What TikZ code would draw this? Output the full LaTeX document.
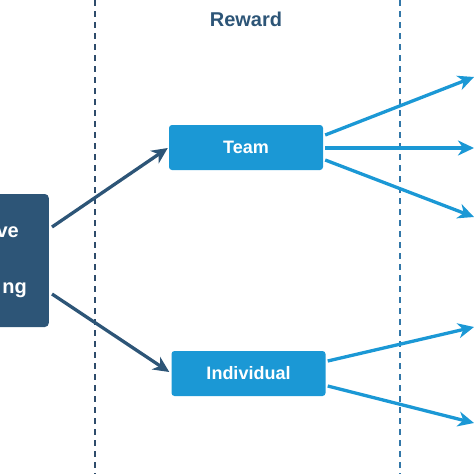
\documentclass[tikz,border=0pt]{standalone}
\usepackage{fontspec}
\setmainfont{Liberation Sans}
\usetikzlibrary{arrows.meta}
\definecolor{darkb}{HTML}{2D5577}
\definecolor{lightb}{HTML}{1B98D5}
\definecolor{dashl}{HTML}{2E4C6B}
\definecolor{dashr}{HTML}{3277A8}
\tikzset{
  boxb/.style={fill=lightb, rounded corners=3pt, minimum width=154pt, minimum height=45pt,
    text=white, font=\fontsize{18}{21}\selectfont\bfseries, inner sep=0pt},
  srcbox/.style={fill=darkb, rounded corners=4pt, minimum width=140pt, minimum height=133pt, inner sep=0pt},
  srctxt/.style={text=white, font=\fontsize{20}{23}\selectfont\bfseries, inner sep=0pt},
  darr/.style={draw=darkb, line width=3.3pt, -{Stealth[length=16pt,width=15pt,inset=5pt]}},
  larr/.style={draw=lightb, line width=3.3pt, -{Stealth[length=16pt,width=15pt,inset=5pt]}},
  divl/.style={line width=1.8pt, dash pattern=on 6pt off 5pt},
}
\begin{document}
\begin{tikzpicture}[x=1pt,y=-1pt]
\useasboundingbox (0,0) rectangle (474,474);
\clip (0,0) rectangle (474,474);
% dashed dividers
\coordinate (d1a) at (95,0);
\coordinate (d1b) at (95,474);
\coordinate (d2a) at (400,0);
\coordinate (d2b) at (400,474);
\draw[divl, draw=dashl] (d1a) -- (d1b);
\draw[divl, draw=dashr] (d2a) -- (d2b);
% title
\node[text=darkb, font=\fontsize{20}{23}\selectfont\bfseries] (reward) at (246,19) {Reward};
% source box
\node[srcbox, anchor=east] (src) at (49,260.5) {};
\node[srctxt, anchor=east] (vtxt) at (19,232) {ve};
\node[srctxt, anchor=east] (ntxt) at (27,290) {ng};
% reward boxes
\node[boxb] (team) at (246,147.5) {Team};
\node[boxb] (indiv) at (248.5,373.5) {Individual};
% left arrows
\draw[darr] ([shift={(3,-33.5)}]src.east) -- ([shift={(-1,0.5)}]team.west);
\draw[darr] ([shift={(3,33.5)}]src.east) -- ([shift={(-2,-1.5)}]indiv.west);
% right end points
\coordinate (t1) at (474,77);
\coordinate (t2) at (474,148);
\coordinate (t3) at (474,217);
\coordinate (i1) at (474,327);
\coordinate (i2) at (474,423);
\draw[larr] ([shift={(2,-12.5)}]team.east) -- (t1);
\draw[larr] ([shift={(2,0.5)}]team.east) -- (t2);
\draw[larr] ([shift={(2,12.5)}]team.east) -- (t3);
\draw[larr] ([shift={(2,-12.5)}]indiv.east) -- (i1);
\draw[larr] ([shift={(2,12.5)}]indiv.east) -- (i2);
\end{tikzpicture}
\end{document}
